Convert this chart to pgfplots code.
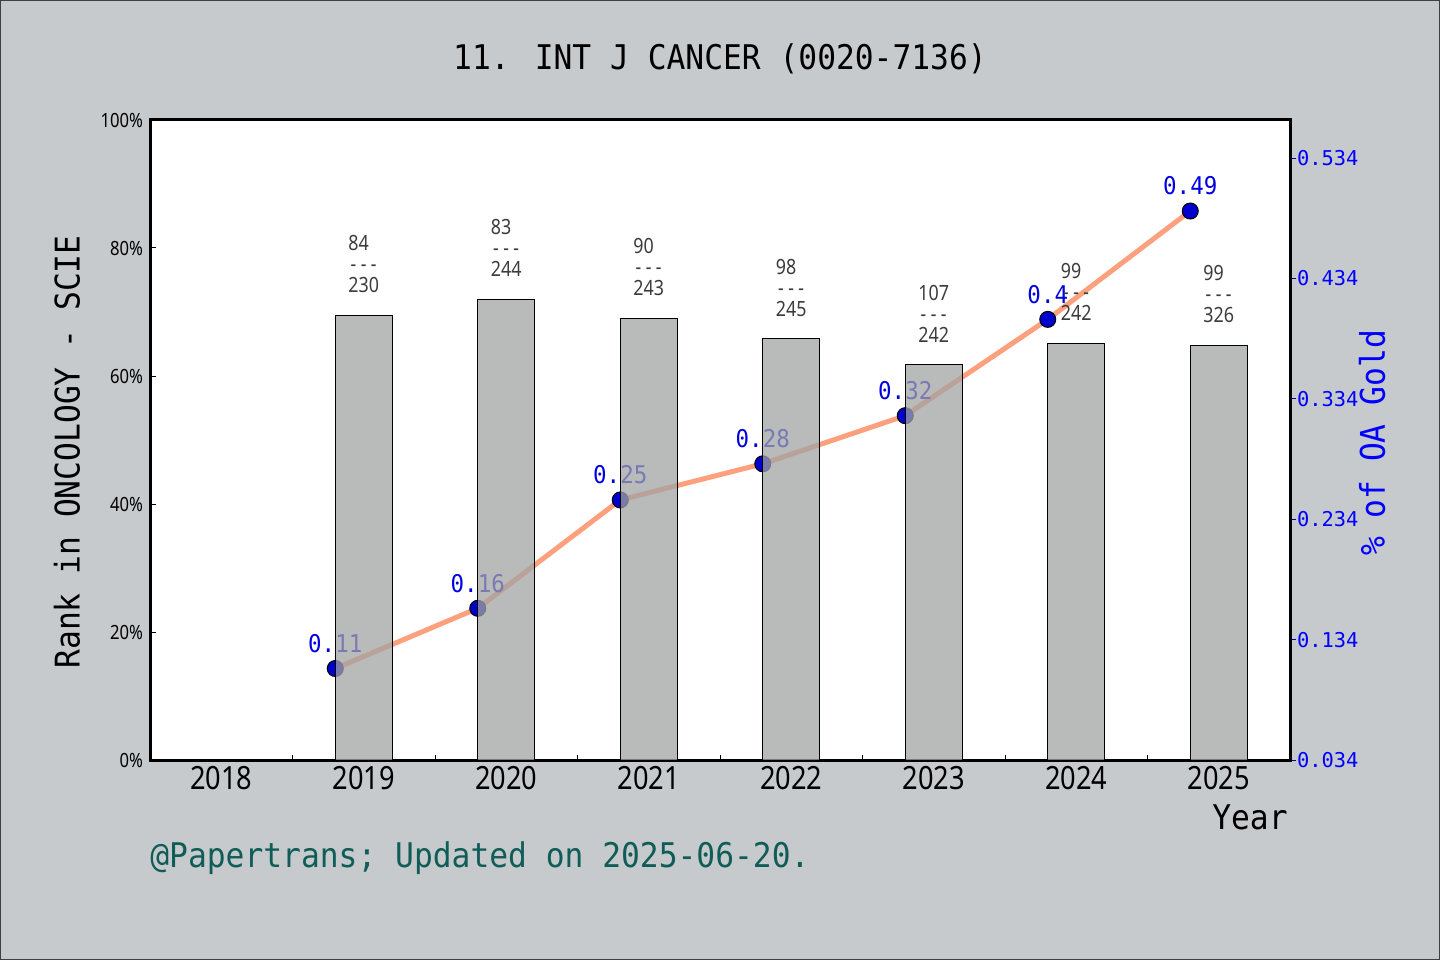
\documentclass[border=0pt]{standalone}
\usepackage{pgfplots}
\pgfplotsset{compat=1.18}
\usepackage{fontspec}
\setmainfont{Noto Sans}
\newfontfamily\titlefont[FakeStretch=0.92]{DejaVu Sans Mono}
\newfontfamily\labfont[FakeStretch=0.8]{DejaVu Sans Mono}
\newfontfamily\rtickfont{DejaVu Sans Mono}
\newfontfamily\tickfont[FakeStretch=0.85]{Noto Sans}
\definecolor{bg}{RGB}{198,202,205}
\definecolor{salmon}{RGB}{252,160,125}
\definecolor{tealc}{RGB}{16,92,86}
\definecolor{bargray}{RGB}{162,163,164}
\definecolor{mblue}{RGB}{0,0,205}
\definecolor{lblue}{RGB}{0,0,225}
\definecolor{rankgray}{RGB}{60,60,60}
\begin{document}
\begin{tikzpicture}
\fill[bg] (0,0) rectangle (720pt,480pt);
\draw[black!75, line width=0.6pt] (0.3pt,0.3pt) rectangle (719.7pt,479.7pt);
\useasboundingbox (0,0) rectangle (720pt,480pt);
\fill[white] (75pt,100pt) rectangle (645pt,420pt);

% right axis: % of OA Gold
\begin{axis}[
  at={(75pt,100pt)}, anchor=south west,
  scale only axis, width=570pt, height=320pt,
  xmin=-0.5, xmax=7.5, ymin=0.034, ymax=0.5656,
  axis x line=none, axis y line*=right,
  y axis line style={line width=1.5pt, -},
  ytick={0.034,0.134,0.234,0.334,0.434,0.534},
  yticklabels={0.034,0.134,0.234,0.334,0.434,0.534},
  yticklabel style={font=\rtickfont\fontsize{10.2}{12}\selectfont, text=blue, xshift=-3pt},
  tick align=outside, major tick length=3pt,
  ytick style={blue!60!black, line width=0.5pt},
  clip=false,
]
\addplot[salmon, line width=2.5pt, mark=*, mark size=4pt,
  mark options={fill=mblue, draw=black, line width=0.5pt},
  nodes near coords, point meta=explicit symbolic,
  nodes near coords style={font=\titlefont\fontsize{12.2}{13}\selectfont, text=lblue, anchor=center, yshift=12.5pt}]
coordinates {(0.8,0.11) [0.11] (1.8,0.16) [0.16] (2.8,0.25) [0.25] (3.8,0.28) [0.28] (4.8,0.32) [0.32] (5.8,0.40) [0.4] (6.8,0.49) [0.49]};
\end{axis}

% left axis: rank bars
\begin{axis}[
  at={(75pt,100pt)}, anchor=south west,
  scale only axis, width=570pt, height=320pt,
  xmin=-0.5, xmax=7.5, ymin=0, ymax=100,
  axis line style={line width=1.5pt},
  ytick={0,20,40,60,80,100},
  yticklabels={0\%,20\%,40\%,60\%,80\%,100\%},
  ytick pos=left, xtick pos=bottom,
  tick align=inside, major tick length=3pt, minor tick length=2.5pt,
  xtick={0,1,2,3,4,5,6,7},
  xticklabels={2018,2019,2020,2021,2022,2023,2024,2025},
  minor xtick={0.5,1.5,2.5,3.5,4.5,5.5,6.5},
  major x tick style={draw=none},
  minor x tick style={black, line width=0.5pt},
  ytick style={black, line width=0.5pt},
  xticklabel style={font=\tickfont\fontsize{16}{16}\selectfont, yshift=0.5pt},
  yticklabel style={font=\tickfont\fontsize{9.8}{10}\selectfont},
  clip=false,
]
\addplot[ybar, bar width=0.4, fill=bargray, fill opacity=0.75, draw=black, line width=0.5pt]
coordinates {(1,69.5) (2,72.0) (3,69.0) (4,65.8) (5,61.8) (6,65.1) (7,64.8)};
\begin{scope}[every node/.style={anchor=south, align=left, inner sep=0pt, yshift=11pt, text=rankgray, font=\tickfont\fontsize{10.5}{10.5}\selectfont}]
\node at (axis cs:1,69.5) {84\\{\labfont -{}-{}-}\\230};
\node at (axis cs:2,72.0) {83\\{\labfont -{}-{}-}\\244};
\node at (axis cs:3,69.0) {90\\{\labfont -{}-{}-}\\243};
\node at (axis cs:4,65.8) {98\\{\labfont -{}-{}-}\\245};
\node at (axis cs:5,61.8) {107\\{\labfont -{}-{}-}\\242};
\node at (axis cs:6,65.1) {99\\{\labfont -{}-{}-}\\242};
\node at (axis cs:7,64.8) {99\\{\labfont -{}-{}-}\\326};
\end{scope}
\end{axis}

\node[font=\titlefont\fontsize{17}{17}\selectfont] at (360pt,450.5pt) {11. INT J CANCER (0020-7136)};
\node[rotate=90, font=\titlefont\fontsize{17}{17}\selectfont] at (33.5pt,254pt) {Rank in ONCOLOGY - SCIE};
\node[rotate=90, text=blue, font=\titlefont\fontsize{17}{17}\selectfont] at (686pt,258.5pt) {\% of OA Gold};
\node[anchor=east, inner sep=0pt, font=\titlefont\fontsize{17}{17}\selectfont] at (644pt,71.5pt) {Year};
\node[anchor=west, inner sep=0pt, text=tealc, font=\titlefont\fontsize{17}{17}\selectfont] at (75pt,51pt) {@Papertrans; Updated on 2025-06-20.};
\end{tikzpicture}
\end{document}
